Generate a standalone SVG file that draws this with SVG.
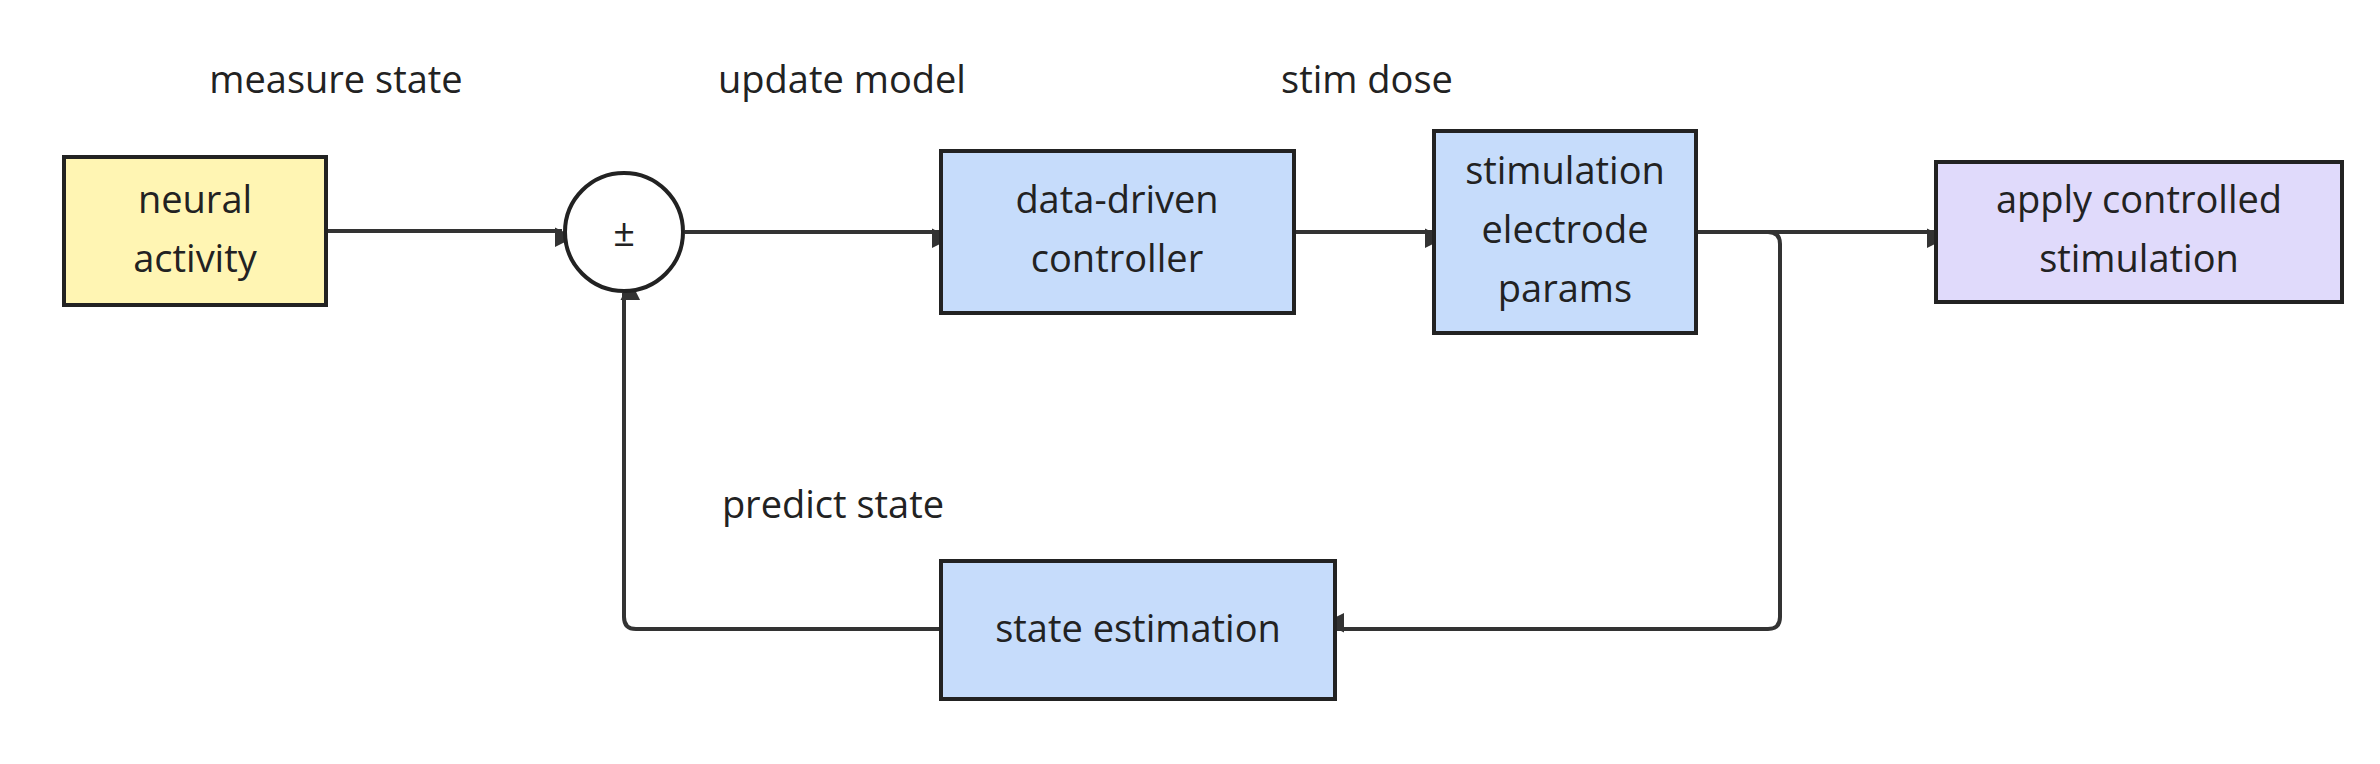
<svg xmlns="http://www.w3.org/2000/svg" width="2380" height="764" viewBox="0 0 2380 764">
<style>
text{font-family:"Open Sans","Noto Sans",sans-serif;font-size:38px;fill:#222;text-anchor:middle}
.n{stroke:#222;stroke-width:4}
.c{fill:none;stroke:#333;stroke-width:4}
</style>
<defs><marker id="a" viewBox="0 0 10 10" refX="10" refY="5" markerWidth="7" markerHeight="7" markerUnits="userSpaceOnUse" orient="auto" overflow="visible"><path d="M0,0L10,5L0,10z" fill="#333" transform="scale(2.8)" /></marker></defs>
<rect width="2380" height="764" fill="#fff"/>
<g id="connectors">
<path class="c" d="M328,231H562" marker-end="url(#a)"/>
<path class="c" d="M685,232H939" marker-end="url(#a)"/>
<path class="c" d="M1296,232H1432" marker-end="url(#a)"/>
<path class="c" d="M1698,232H1934" marker-end="url(#a)"/>
<path class="c" d="M1698,232H1768Q1780,232 1780,244V617Q1780,629 1768,629H1337" marker-end="url(#a)"/>
<path class="c" d="M939,629H636Q624,629 624,617V293" marker-end="url(#a)"/>
</g>
<g id="labels">
<text x="336" y="93">measure state</text>
<text x="842" y="93">update model</text>
<text x="1367" y="93">stim dose</text>
<text x="833" y="518">predict state</text>
</g>
<g id="neural"><rect class="n" x="64" y="157" width="262" height="148" fill="#fff5b3"/><text x="195" y="213">neural</text><text x="195" y="272">activity</text></g>
<g id="sum"><circle class="n" cx="624" cy="232" r="59" fill="#fff"/><text x="624" y="246">±</text></g>
<g id="controller"><rect class="n" x="941" y="151" width="353" height="162" fill="#c6dcfb"/><text x="1117" y="213">data-driven</text><text x="1117" y="272">controller</text></g>
<g id="stim"><rect class="n" x="1434" y="131" width="262" height="202" fill="#c6dcfb"/><text x="1565" y="184">stimulation</text><text x="1565" y="243">electrode</text><text x="1565" y="302">params</text></g>
<g id="apply"><rect class="n" x="1936" y="162" width="406" height="140" fill="#e0dafb"/><text x="2139" y="213">apply controlled</text><text x="2139" y="272">stimulation</text></g>
<g id="estimation"><rect class="n" x="941" y="561" width="394" height="138" fill="#c6dcfb"/><text x="1138" y="642">state estimation</text></g>
</svg>
